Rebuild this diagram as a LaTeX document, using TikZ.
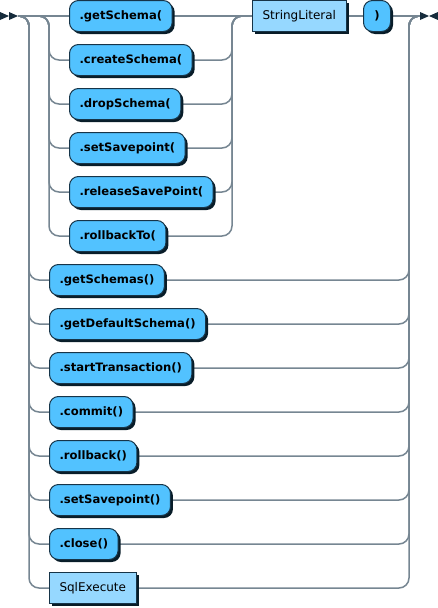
\documentclass[tikz,border=0pt]{standalone}
\usepackage{fontspec}
\setmainfont{DejaVu Sans}
\usetikzlibrary{positioning,shadows,backgrounds}
\definecolor{termfill}{RGB}{82,194,255}
\definecolor{ntfill}{RGB}{150,216,255}
\definecolor{boxline}{RGB}{22,52,72}
\definecolor{shadowc}{RGB}{8,28,40}
\definecolor{railc}{RGB}{118,134,146}
\definecolor{tipc}{RGB}{22,44,60}

\begin{document}
\begin{tikzpicture}[
	x=1pt,
	y=-1pt
]
\tikzset{
    term/.style = {draw=boxline, line width=1pt, fill=termfill, rounded corners=9pt,
        minimum height=31pt, inner xsep=10pt, anchor=west,
        font=\bfseries\fontsize{11.6}{14}\selectfont,
        drop shadow={shadow xshift=2.5pt, shadow yshift=-2.5pt, fill=shadowc, opacity=1}},
    nterm/.style = {term, rounded corners=0pt, fill=ntfill, font=\fontsize{12}{14}\selectfont},
    rail/.style = {draw=railc, line width=1.5pt, rounded corners=10pt},
}
    \useasboundingbox (0,0) rectangle (438,608);

    \coordinate (outL) at (19,16);
    \coordinate (inL) at (39,16);
    \coordinate (inR) at (232,16);
    \coordinate (outR) at (409,16);
    \coordinate (fin) at (420,16);

    % inner choice
    \node (gs) [term] at (69,16) {.getSchema(};
    \node (cs) [term] at (69,60) {.createSchema(};
    \node (ds) [term] at (69,104) {.dropSchema(};
    \node (ssp) [term] at (69,148) {.setSavepoint(};
    \node (rsp) [term] at (69,192) {.releaseSavePoint(};
    \node (rbt) [term] at (69,236) {.rollbackTo(};
    \node (sl) [nterm] at (252,16) {StringLiteral};
    \node (rp) [term, minimum width=27pt, inner xsep=0pt] at (363,16) {)};

    % outer choice
    \node (gss) [term] at (49,280) {.getSchemas()};
    \node (gds) [term] at (49,324) {.getDefaultSchema()};
    \node (st) [term] at (49,368) {.startTransaction()};
    \node (cm) [term] at (49,412) {.commit()};
    \node (rb) [term] at (49,456) {.rollback()};
    \node (ssv) [term] at (49,500) {.setSavepoint()};
    \node (cl) [term] at (49,544) {.close()};
    \node (se) [nterm] at (49,588) {SqlExecute};

    \begin{scope}[on background layer]
    \draw[rail] (18,16) -- (gs.west);
    \draw[rail] (gs.east) -- (sl.west);
    \draw[rail] (sl.east) -- (rp.west);
    \draw[rail] (rp.east) -- (fin);
    \foreach \n in {cs,ds,ssp,rsp,rbt} {
        \draw[rail] (inL) -| ([xshift=-20pt]\n.west) -- (\n.west);
        \draw[rail] (\n.east) -| (inR) -- (sl.west);
    }
    \foreach \n in {gss,gds,st,cm,rb,ssv,cl,se} {
        \draw[rail] (outL) -| ([xshift=-20pt]\n.west) -- (\n.west);
        \draw[rail] (\n.east) -| (outR) -- (fin);
    }
    \end{scope}

    % start and end marks
    \fill[tipc] (0,12) -- (9,16) -- (0,20) -- cycle;
    \fill[tipc] (9,12) -- (18,16) -- (9,20) -- cycle;
    \fill[tipc] (420,12) -- (429,16) -- (420,20) -- cycle;
    \fill[tipc] (438,12) -- (429,16) -- (438,20) -- cycle;
\end{tikzpicture}
\end{document}
